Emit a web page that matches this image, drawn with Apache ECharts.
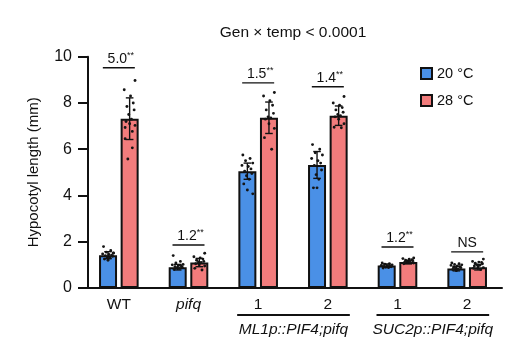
<!DOCTYPE html>
<html>
<head>
<meta charset="utf-8">
<script src="https://cdn.jsdelivr.net/npm/echarts@6/dist/echarts.min.js"></script>
<style>html,body{margin:0;padding:0;background:#fff;}#c{width:532px;height:358px;}</style>
</head>
<body>
<div id="c"></div>
<script>
// ---- data ----
const categories = ['WT', 'pifq', '1', '2', '1', '2'];
const seriesNames = ['20 °C', '28 °C'];
const blueMean = [1.42, 0.9, 5.05, 5.32, 0.97, 0.84];
const redMean  = [7.32, 1.1, 7.36, 7.45, 1.12, 0.9];
const blueSD = [0.15, 0.12, 0.35, 0.58, 0.07, 0.1];
const redSD  = [0.9, 0.18, 0.68, 0.42, 0.08, 0.12];
const blueDots = [
  [1.79, 1.62, 1.55, 1.5, 1.47, 1.45, 1.42, 1.4, 1.37, 1.33, 1.3, 1.25, 1.2, 1.52],
  [1.4, 1.15, 1.08, 1.02, 1.0, 0.97, 0.95, 0.92, 0.9, 0.88, 0.85, 0.8],
  [5.75, 5.6, 5.5, 5.4, 5.3, 5.25, 5.15, 5.05, 4.95, 4.85, 4.7, 4.5, 4.24, 4.07],
  [6.2, 6.0, 5.85, 5.75, 5.6, 5.5, 5.4, 5.3, 5.1, 4.9, 4.7, 4.33, 4.33],
  [1.08, 1.05, 1.03, 1.0, 0.98, 0.96, 0.95, 0.93, 0.92, 0.9, 0.88, 0.86],
  [1.08, 1.05, 1.02, 1.0, 0.98, 0.95, 0.92, 0.9, 0.88, 0.85, 0.82, 0.8, 0.75]
];
const redDots = [
  [8.97, 8.57, 8.3, 8.0, 7.85, 7.7, 7.5, 7.3, 7.2, 7.1, 7.03, 6.94, 6.77, 6.45, 6.06, 5.58],
  [1.5, 1.35, 1.3, 1.25, 1.2, 1.15, 1.12, 1.1, 1.05, 1.0, 0.95, 0.85, 0.78],
  [8.45, 8.3, 8.1, 7.9, 7.7, 7.55, 7.4, 7.35, 7.3, 7.1, 6.9, 6.5, 6.0],
  [8.28, 8.0, 7.9, 7.8, 7.7, 7.6, 7.5, 7.45, 7.4, 7.3, 7.1, 6.95, 6.93],
  [1.3, 1.27, 1.25, 1.22, 1.2, 1.18, 1.16, 1.14, 1.12, 1.1, 1.08, 1.05],
  [1.25, 1.15, 1.12, 1.1, 1.07, 1.05, 1.0, 0.98, 0.95, 0.92, 0.88, 0.85, 0.8]
];
const sigLabels = ['5.0', '1.2', '1.5', '1.4', '1.2', 'NS'];
const sigStars  = ['**', '**', '**', '**', '**', ''];
const sigLevel  = [9.52, 1.86, 8.87, 8.7, 1.77, 1.56];
const groupLabels = ['ML1p::PIF4;pifq', 'SUC2p::PIF4;pifq'];
const groupSpans  = [[2, 3], [4, 5]];
const yTicks = [0, 2, 4, 6, 8, 10];
const titleText = 'Gen × temp < 0.0001';
const yName = 'Hypocotyl length (mm)';

// ---- styles ----
const FONT = "'Liberation Sans', Arial, Helvetica, sans-serif";
const BLUE = '#4a90e6';
const RED = '#f27c7c';
const BAR_W = 18;
const OFF = 10.8;
const JIT = [-5, 3, -2, 6, -6, 1, 4, -3, 5, -1, 2, -4, 0, 6, -5, 3];

const chart = echarts.init(document.getElementById('c'), null, {renderer: 'canvas'});

function errRender(offset) {
  return function (params, api) {
    const c = api.value(0), m = api.value(1), s = api.value(2);
    const x = api.coord([c, m])[0] + offset;
    const yT = api.coord([c, m + s])[1];
    const yB = api.coord([c, m - s])[1];
    const cw = 3.8;
    const st = {stroke: '#111', lineWidth: 1.4};
    return {type: 'group', children: [
      {type: 'line', shape: {x1: x, y1: yT, x2: x, y2: yB}, style: st},
      {type: 'line', shape: {x1: x - cw, y1: yT, x2: x + cw, y2: yT}, style: st},
      {type: 'line', shape: {x1: x - cw, y1: yB, x2: x + cw, y2: yB}, style: st}
    ]};
  };
}
function dotRender(offset) {
  return function (params, api) {
    const c = api.value(0), v = api.value(1), j = api.value(2);
    const p = api.coord([c, v]);
    return {type: 'circle', shape: {cx: p[0] + offset + JIT[j % JIT.length] * 0.9, cy: p[1], r: 1.45},
      style: {fill: '#151515'}};
  };
}
function sigRender(params, api) {
  const c = api.value(0), lv = api.value(1), k = api.value(2);
  const p = api.coord([c, lv]);
  return {type: 'group', children: [
    {type: 'line', shape: {x1: p[0] - 16, y1: p[1], x2: p[0] + 16, y2: p[1]}, style: {stroke: '#111', lineWidth: 1.4}},
    {type: 'text', x: p[0] + (sigStars[k] ? 2 : 0), y: p[1] - 2, style: {
      text: '{n|' + sigLabels[k] + '}' + (sigStars[k] ? '{s|' + sigStars[k] + '}' : ''),
      align: 'center', verticalAlign: 'bottom',
      rich: {
        n: {fontSize: 14, fontFamily: FONT, fill: '#111', verticalAlign: 'bottom'},
        s: {fontSize: 9, fontFamily: FONT, fill: '#111', verticalAlign: 'top', padding: [0, 0, 6, 0]}
      }
    }}
  ]};
}

const errBlue = blueMean.map((m, i) => [i, m, blueSD[i]]);
const errRed = redMean.map((m, i) => [i, m, redSD[i]]);
const dotBlue = [], dotRed = [];
blueDots.forEach((arr, i) => arr.forEach((v, j) => dotBlue.push([i, v, j])));
redDots.forEach((arr, i) => arr.forEach((v, j) => dotRed.push([i, v, j + 3])));
const sigData = sigLevel.map((lv, i) => [i, lv, i]);

const option = {
  animation: false,
  textStyle: {fontFamily: FONT},
  grid: {left: 84, right: 30, top: 56.7, bottom: 70},
  legend: {
    data: seriesNames, orient: 'vertical', left: 415, top: 61,
    itemWidth: 11, itemHeight: 11, itemGap: 12, icon: 'rect',
    textStyle: {fontSize: 14.5, color: '#111', fontFamily: FONT}
  },
  xAxis: {
    type: 'category', data: categories,
    axisLine: {lineStyle: {color: '#111', width: 2}},
    axisTick: {show: false},
    axisLabel: {
      margin: 9, fontSize: 15.5, color: '#111', fontFamily: FONT,
      formatter: v => v === 'pifq' ? '{i|' + v + '}' : v,
      rich: {i: {fontStyle: 'italic', fontSize: 15.5, color: '#111', fontFamily: FONT}}
    }
  },
  yAxis: {
    type: 'value', min: 0, max: 10, interval: 2, offset: -4,
    name: yName, nameLocation: 'middle', nameGap: 47,
    nameTextStyle: {fontSize: 15, color: '#111', fontFamily: FONT},
    axisLine: {show: true, lineStyle: {color: '#111', width: 2}},
    axisTick: {show: true, length: 10, lineStyle: {color: '#111', width: 2}},
    splitLine: {show: false},
    axisLabel: {margin: 16, fontSize: 16, color: '#111', fontFamily: FONT,
      formatter: v => yTicks.indexOf(v) >= 0 ? String(v) : ''}
  },
  series: [
    {name: seriesNames[0], type: 'bar', data: blueMean, barWidth: BAR_W, barGap: '20%',
      itemStyle: {color: BLUE, borderColor: '#111', borderWidth: 2}, z: 2},
    {name: seriesNames[1], type: 'bar', data: redMean, barWidth: BAR_W,
      itemStyle: {color: RED, borderColor: '#111', borderWidth: 2}, z: 2},
    {type: 'custom', renderItem: dotRender(-OFF), data: dotBlue, z: 4, silent: true},
    {type: 'custom', renderItem: dotRender(OFF), data: dotRed, z: 4, silent: true},
    {type: 'custom', renderItem: errRender(-OFF), data: errBlue, z: 5, silent: true},
    {type: 'custom', renderItem: errRender(OFF), data: errRed, z: 5, silent: true},
    {type: 'custom', renderItem: sigRender, data: sigData, z: 6, silent: true}
  ],
  graphic: [
    {type: 'text', x: 293, y: 33, style: {text: titleText, fontSize: 15.5, fontFamily: FONT,
      fill: '#111', align: 'center', verticalAlign: 'middle'}}
  ]
};
chart.setOption(option);

// group brackets under the x labels
const g = option.graphic.slice();
groupSpans.forEach((sp, k) => {
  const x1 = chart.convertToPixel({xAxisIndex: 0}, sp[0]) - 21;
  const x2 = chart.convertToPixel({xAxisIndex: 0}, sp[1]) + 22;
  g.push({type: 'line', shape: {x1: x1, y1: 315, x2: x2, y2: 315}, style: {stroke: '#111', lineWidth: 2}});
  g.push({type: 'text', x: (x1 + x2) / 2, y: 330, style: {text: groupLabels[k], fontSize: 15.5, fontStyle: 'italic',
    fontFamily: FONT, fill: '#111', align: 'center', verticalAlign: 'middle'}});
});
chart.setOption({graphic: g}, {replaceMerge: ['graphic']});
</script>
</body>
</html>
